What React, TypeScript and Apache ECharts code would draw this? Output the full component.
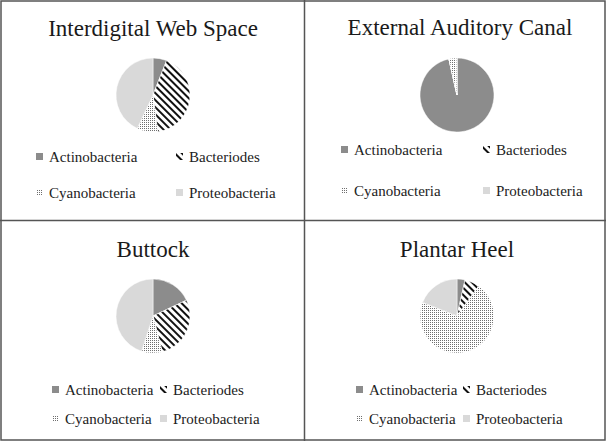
import React, { useEffect, useRef } from 'react';
import * as echarts from 'echarts';

// 门类
const phyla = ['Actinobacteria', 'Bacteriodes', 'Cyanobacteria', 'Proteobacteria'];
// 部位
const sites = ['Interdigital Web Space', 'External Auditory Canal', 'Buttock', 'Plantar Heel'];
// 各部位的相对丰度 (%)
const interdigitalValues = [6, 42, 9, 43];
const auditoryValues = [96.5, 0, 3.5, 0];
const buttockValues = [18, 28, 9, 45];
const heelValues = [3.5, 6.5, 71, 19];
const siteValues = [interdigitalValues, auditoryValues, buttockValues, heelValues];

const FONT = 'Liberation Serif';

// 每个面板的布局
const panels = [
  { cx: 153, cy: 95, titleX: 153, titleY: 17, legX: [34, 174], legY: [157, 193] },
  { cx: 457, cy: 95, titleX: 460, titleY: 16, legX: [339, 481], legY: [150, 191] },
  { cx: 153, cy: 316, titleX: 153, titleY: 238, legX: [50, 158], legY: [390, 419] },
  { cx: 457, cy: 316, titleX: 457, titleY: 238, legX: [354, 461], legY: [390, 419] },
];

const itemStyles: any[] = [
  { color: '#8c8c8c' },
  {
    color: '#ffffff',
    decal: {
      symbol: 'rect',
      symbolSize: 1,
      dashArrayX: [1, 0],
      dashArrayY: [2, 2.5],
      rotation: Math.PI / 4,
      color: '#111111',
      backgroundColor: '#ffffff',
    },
  },
  {
    color: '#ffffff',
    decal: {
      symbol: 'rect',
      symbolSize: 1,
      dashArrayX: [1, 1],
      dashArrayY: [1, 1],
      color: '#6e6e6e',
      backgroundColor: '#ffffff',
    },
  },
  { color: '#d9d9d9' },
];

export default function App() {
  const chartRef = useRef<HTMLDivElement>(null);

  useEffect(() => {
    if (!chartRef.current) return;
    const chart = echarts.init(chartRef.current, null, { renderer: 'svg' });

    const title = panels.map((p, i) => ({
      text: sites[i],
      left: p.titleX,
      top: p.titleY,
      textAlign: 'center',
      padding: 0,
      textStyle: { fontFamily: FONT, fontSize: 23, fontWeight: 'normal', color: '#1a1a1a' },
    }));

    const legend: any[] = [];
    panels.forEach((p) => {
      phyla.forEach((name, k) => {
        legend.push({
          data: [name],
          left: p.legX[k % 2],
          top: p.legY[Math.floor(k / 2)] - 8,
          padding: 0,
          icon: 'rect',
          itemWidth: 9,
          itemHeight: 9,
          selectedMode: false,
          textStyle: { fontFamily: FONT, fontSize: 15, color: '#222222' },
        });
      });
    });

    const series = panels.map((p, i) => ({
      type: 'pie',
      center: [p.cx, p.cy],
      radius: 37,
      startAngle: 90,
      silent: true,
      label: { show: false },
      labelLine: { show: false },
      emphasis: { disabled: true },
      itemStyle: { borderColor: '#ffffff', borderWidth: 0.5 },
      data: phyla.map((name, k) => ({
        name,
        value: siteValues[i][k],
        itemStyle: itemStyles[k],
      })),
    }));

    const border = '#555555';
    const graphic = [
      { type: 'rect', shape: { x: 1, y: 1, width: 604, height: 439 }, style: { fill: 'none', stroke: border, lineWidth: 1.5 } },
      { type: 'line', shape: { x1: 304.5, y1: 0, x2: 304.5, y2: 441 }, style: { stroke: border, lineWidth: 1.5 } },
      { type: 'line', shape: { x1: 0, y1: 220.5, x2: 606, y2: 220.5 }, style: { stroke: border, lineWidth: 1.5 } },
    ];

    chart.setOption({
      animation: false,
      backgroundColor: '#ffffff',
      textStyle: { fontFamily: FONT },
      title,
      legend,
      series,
      graphic,
    });

    return () => {
      chart.dispose();
    };
  }, []);

  return (
    <div style={{ position: 'absolute', left: 0, top: 0, width: 609, height: 442 }}>
      <div ref={chartRef} style={{ width: '100%', height: '100%' }} />
    </div>
  );
}
